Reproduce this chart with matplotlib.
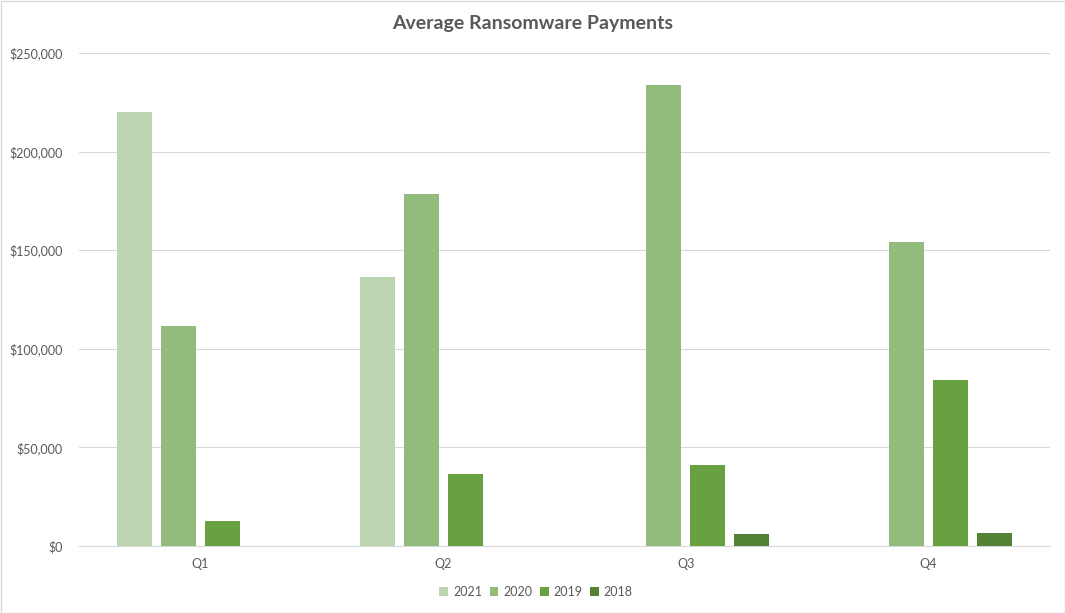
import matplotlib
matplotlib.use("Agg")
import matplotlib.pyplot as plt
import numpy as np
from matplotlib.ticker import FuncFormatter

plt.rcParams['font.family'] = ['Lato', 'DejaVu Sans']

quarters = ["Q1", "Q2", "Q3", "Q4"]
years = ["2021", "2020", "2019", "2018"]
v2021 = [220298, 136576, np.nan, np.nan]
v2020 = [111605, 178254, 233817, 154108]
v2019 = [12762, 36295, 41198, 84116]
v2018 = [np.nan, np.nan, 5973, 6733]
series = [v2021, v2020, v2019, v2018]
colors = ["#bed5b2", "#93bb7b", "#68a240", "#548235"]

W, H = 1065, 613
fig = plt.figure(figsize=(W/100, H/100), dpi=100)
ax = fig.add_axes([79/W, (H-546)/H, (1050-79)/W, (546-53)/H])

x = np.arange(len(quarters))
bw = 35/243
step = 44/243
for i, (vals, c, lab) in enumerate(zip(series, colors, years)):
    ax.bar(x + (i-1.5)*step, vals, width=bw, color=c, label=lab, zorder=3)

ax.set_xlim(-0.5, 3.5)
ax.set_ylim(0, 250000)
ax.set_yticks(np.arange(0, 250001, 50000))
ax.yaxis.set_major_formatter(FuncFormatter(lambda v, p: "${:,.0f}".format(v)))
ax.set_xticks(x)
ax.set_xticklabels(quarters)
ax.grid(axis='y', color='#d9d9d9', linewidth=0.8, zorder=0)
for s in ['top', 'right', 'left']:
    ax.spines[s].set_visible(False)
ax.spines['bottom'].set_color('#d9d9d9')
ax.tick_params(axis='both', length=0, colors='#595959', labelsize=9)
ax.tick_params(axis='x', pad=9)
ax.tick_params(axis='y', pad=12)

fig.text(533/W, 1-23/H, "Average Ransomware Payments", ha='center', va='center',
         fontsize=14, color='#595959', fontweight='bold')

leg = fig.legend(loc='center', bbox_to_anchor=(536/W, 1-592/H), ncol=4, frameon=False,
                 fontsize=9, handlelength=0.7, handleheight=0.7, handletextpad=0.4,
                 columnspacing=0.6, labelcolor='#595959')

fig.patches.append(matplotlib.patches.Rectangle((0.5/W, 0.5/H), 1-1/W, 1-1/H,
                   transform=fig.transFigure, fill=False, edgecolor='#d9d9d9', linewidth=1))

fig.savefig("out.png", dpi=100)
